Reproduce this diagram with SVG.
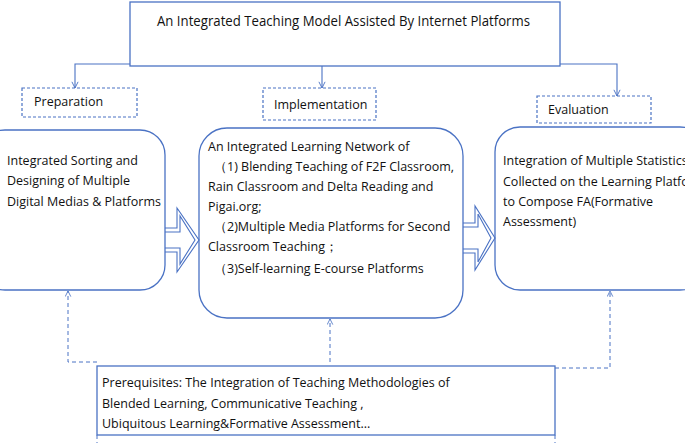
<svg xmlns="http://www.w3.org/2000/svg" width="685" height="443" viewBox="0 0 685 443">
<defs>
<marker id="ah" viewBox="0 0 10 10" refX="9" refY="5" markerWidth="7" markerHeight="7" orient="auto"><path d="M1,1 L9,5 L1,9" fill="none" stroke="#4a72c4" stroke-width="1.2"/></marker>
</defs>
<style>
.b{fill:#fff;stroke:#4a72c4;stroke-width:1.3}
.d{fill:#fff;stroke:#4a72c4;stroke-width:1.2;stroke-dasharray:3,2}
.l{fill:none;stroke:#4a72c4;stroke-width:1.1}
.dl{fill:none;stroke:#4a72c4;stroke-width:1;stroke-dasharray:4,3}
text{font-family:"Open Sans","Liberation Sans",sans-serif;font-size:12.5px;fill:#111}
</style>
<rect width="685" height="443" fill="#fff"/>
<g id="connectors">
<path class="l" d="M130,64 H75 V88" marker-end="url(#ah)"/>
<path class="l" d="M322,66 V88" marker-end="url(#ah)"/>
<path class="l" d="M560,64 H617 V96" marker-end="url(#ah)"/>
<path class="dl" d="M97,362 H68 V291" marker-end="url(#ah)"/>
<path class="dl" d="M330,362 V319" marker-end="url(#ah)"/>
<path class="dl" d="M555,368 H610 V291" marker-end="url(#ah)"/>
<path class="dl" d="M97,435 V443 M555,435 V443"/>
</g>
<g id="title"><rect class="b" x="130" y="2" width="430" height="64"/>
<text x="157" y="26" textLength="373" lengthAdjust="spacingAndGlyphs" style="font-size:14px">An  Integrated  Teaching Model Assisted By Internet Platforms</text></g>
<g id="prep"><rect class="d" x="22" y="88" width="115" height="29"/><text x="34" y="106">Preparation</text></g>
<g id="impl"><rect class="d" x="263" y="88" width="113" height="32"/><text x="274" y="109">Implementation</text></g>
<g id="eval"><rect class="d" x="537" y="96" width="114" height="27"/><text x="548" y="114">Evaluation</text></g>
<g id="left"><rect class="b" x="-20" y="130" width="185" height="160" rx="25"/>
<text x="7" y="165">Integrated Sorting and</text>
<text x="7" y="185">Designing of Multiple</text>
<text x="7" y="206">Digital Medias &amp;  Platforms</text></g>
<g id="mid"><rect class="b" x="199" y="128" width="264" height="190" rx="28"/>
<text x="208" y="151">An Integrated Learning Network of</text>
<text x="214" y="171">（1) Blending Teaching of F2F Classroom,</text>
<text x="208" y="191">Rain Classroom and  Delta Reading and</text>
<text x="208" y="211">Pigai.org;</text>
<text x="214" y="231">（2)Multiple Media Platforms for Second</text>
<text x="208" y="251">Classroom Teaching；</text>
<text x="214" y="273">（3)Self-learning  E-course Platforms</text></g>
<g id="right"><rect class="b" x="495" y="127" width="210" height="163" rx="25"/>
<text x="503" y="165">Integration of Multiple Statistics</text>
<text x="503" y="186">Collected on the Learning Platfo</text>
<text x="503" y="206">to Compose FA(Formative</text>
<text x="503" y="226">Assessment)</text></g>
<g id="arrows">
<path class="l" d="M165,228 H177 V208 L199,240 L177,272 V252 H165"/>
<path class="l" d="M165,232 H180 V216 L195,240 L180,264 V248 H165"/>
<path class="l" d="M463,223 H475 V206 L495,238 L475,270 V253 H463"/>
<path class="l" d="M463,227 H478 V214 L491,238 L478,262 V249 H463"/>
</g>
<g id="prereq"><rect class="b" x="97" y="366" width="458" height="69"/>
<text x="102" y="387">Prerequisites: The Integration of Teaching Methodologies of</text>
<text x="102" y="408">Blended Learning, Communicative Teaching ,</text>
<text x="102" y="428">Ubiquitous Learning&amp;Formative Assessment...</text></g>
</svg>
